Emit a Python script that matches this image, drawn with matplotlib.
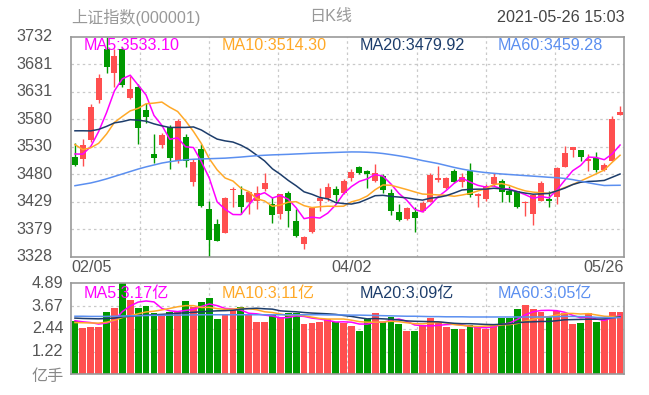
import numpy as np
import matplotlib.pyplot as plt

plt.rcParams['font.family'] = ['Liberation Sans', 'Noto Sans CJK SC']

# daily candles, 2021-02-05 .. 2021-05-26 (70 trading days)
opens = [3511, 3507, 3542, 3615, 3710, 3665, 3709, 3620, 3640, 3597,
         3516, 3533, 3566, 3503, 3548, 3465, 3526, 3416, 3389, 3371,
         3451, 3442, 3428, 3431, 3452, 3425, 3406, 3446, 3394, 3351,
         3374, 3431, 3436, 3452, 3446, 3473, 3493, 3486, 3468, 3477,
         3446, 3411, 3397, 3411, 3413, 3428, 3469, 3455, 3486, 3466,
         3486, 3440, 3434, 3462, 3468, 3449, 3449, 3426, 3406, 3431,
         3434, 3437, 3493, 3524, 3524, 3504, 3509, 3487, 3504, 3589]
highs = [3537, 3544, 3608, 3664, 3731.69, 3709, 3713, 3660, 3645, 3611,
         3553, 3555, 3569, 3581, 3553, 3507, 3535, 3431, 3397, 3438,
         3456, 3458, 3449, 3458, 3481, 3437, 3444, 3449, 3416, 3366,
         3418, 3454, 3463, 3458, 3471, 3489, 3495, 3487, 3498, 3480,
         3452, 3425, 3420, 3419, 3431, 3481, 3495, 3474, 3489, 3481,
         3500, 3445, 3461, 3481, 3471, 3458, 3449, 3431, 3444, 3468,
         3449, 3492, 3532, 3529, 3524, 3517, 3520, 3501, 3587, 3605]
lows = [3494, 3495, 3538, 3610, 3666, 3639, 3640, 3617, 3535, 3573,
        3501, 3527, 3489, 3501, 3492, 3458, 3419, 3328.3, 3357, 3371,
        3419, 3406, 3406, 3416, 3449, 3391, 3397, 3382, 3365, 3342,
        3372, 3413, 3431, 3430, 3443, 3468, 3480, 3455, 3465, 3446,
        3405, 3393, 3395, 3373, 3410, 3428, 3465, 3452, 3464, 3457,
        3438, 3419, 3431, 3458, 3428, 3428, 3417, 3403, 3387, 3430,
        3419, 3425, 3492, 3512, 3504, 3486, 3483, 3486, 3504, 3589]
closes = [3496.33, 3532.44, 3603.49, 3655.09, 3675.36, 3696.17, 3642.44, 3636.36, 3564.08, 3585.05,
          3509.08, 3551.40, 3508.59, 3576.90, 3503.49, 3501.99, 3421.41, 3359.29, 3357.74, 3436.83,
          3453.08, 3419.95, 3446.73, 3445.55, 3463.07, 3404.66, 3443.44, 3411.51, 3367.06, 3363.59,
          3418.33, 3435.30, 3456.68, 3441.91, 3466.33, 3484.39, 3482.48, 3479.63, 3482.55, 3450.68,
          3412.95, 3396.47, 3416.99, 3398.99, 3426.62, 3477.55, 3472.94, 3472.49, 3465.11, 3474.17,
          3441.17, 3442.61, 3457.07, 3474.90, 3446.86, 3441.28, 3418.87, 3427.99, 3441.85, 3462.75,
          3429.54, 3490.38, 3517.62, 3529.01, 3510.96, 3506.94, 3486.56, 3497.28, 3581.34, 3593.36]

ma5 = [3516.62, 3516.37, 3530.29, 3557.84, 3592.54, 3632.51, 3654.51, 3661.08, 3642.88, 3624.82,
       3587.40, 3569.19, 3543.64, 3546.20, 3529.89, 3528.47, 3502.48, 3472.62, 3428.78, 3415.45,
       3405.67, 3405.38, 3422.87, 3440.43, 3445.68, 3435.99, 3440.69, 3433.65, 3417.95, 3398.05,
       3400.79, 3399.16, 3408.19, 3423.16, 3443.71, 3456.92, 3466.36, 3470.95, 3479.08, 3475.95,
       3461.66, 3444.46, 3431.93, 3415.22, 3410.40, 3423.32, 3438.62, 3449.72, 3462.94, 3472.45,
       3465.18, 3459.11, 3456.03, 3457.98, 3452.52, 3452.54, 3447.80, 3441.98, 3435.37, 3438.55,
       3436.20, 3450.50, 3468.43, 3485.86, 3495.50, 3510.98, 3510.22, 3506.15, 3516.62, 3533.10]
ma10 = [3533.84, 3524.66, 3528.06, 3536.24, 3553.26, 3574.57, 3585.44, 3595.69, 3600.36, 3608.68,
        3609.96, 3611.85, 3602.36, 3594.54, 3577.36, 3557.94, 3535.84, 3508.13, 3487.49, 3472.67,
        3467.07, 3453.93, 3447.74, 3434.61, 3430.56, 3420.83, 3423.03, 3428.26, 3429.19, 3421.86,
        3418.39, 3419.92, 3420.92, 3420.56, 3420.88, 3428.85, 3432.76, 3439.57, 3451.12, 3459.83,
        3459.29, 3455.41, 3451.44, 3447.15, 3443.18, 3442.49, 3441.54, 3440.82, 3439.08, 3441.43,
        3444.25, 3448.86, 3452.87, 3460.46, 3462.49, 3458.86, 3453.45, 3449.00, 3446.68, 3445.54,
        3444.37, 3449.15, 3455.20, 3460.62, 3467.03, 3473.59, 3480.36, 3487.29, 3501.24, 3514.30]
ma20 = [3559.14, 3559.18, 3558.94, 3561.76, 3567.23, 3573.72, 3576.04, 3579.54, 3578.59, 3576.78,
        3571.90, 3568.25, 3565.21, 3565.39, 3565.31, 3566.25, 3560.64, 3551.91, 3543.93, 3540.68,
        3538.51, 3532.89, 3525.05, 3514.57, 3503.96, 3489.38, 3479.43, 3468.19, 3458.34, 3447.27,
        3442.73, 3436.93, 3434.33, 3427.58, 3425.72, 3424.84, 3427.90, 3433.91, 3440.15, 3440.85,
        3438.84, 3437.67, 3436.18, 3433.85, 3432.03, 3435.67, 3437.15, 3440.20, 3445.10, 3450.63,
        3451.77, 3452.14, 3452.16, 3453.80, 3452.83, 3450.68, 3447.50, 3444.91, 3442.88, 3443.48,
        3444.31, 3449.01, 3454.04, 3460.54, 3464.76, 3466.23, 3466.91, 3468.15, 3473.96, 3479.92]
ma60 = [3458.5, 3461.0, 3463.5, 3467.0, 3471.0, 3475.5, 3480.0, 3484.5, 3489.0, 3493.0,
        3496.5, 3500.0, 3502.5, 3504.5, 3506.0, 3507.0, 3507.5, 3508.0, 3508.5, 3509.0,
        3510.0, 3511.0, 3512.3, 3513.5, 3514.3, 3515.0, 3515.5, 3516.0, 3516.7, 3517.3,
        3518.0, 3518.5, 3519.0, 3519.5, 3520.0, 3520.4, 3520.3, 3519.8, 3519.0, 3517.5,
        3515.5, 3513.3, 3510.8, 3507.8, 3504.5, 3501.8, 3499.0, 3495.5, 3492.0, 3489.0,
        3486.3, 3484.2, 3482.5, 3481.2, 3480.0, 3479.0, 3478.0, 3477.0, 3476.0, 3475.00,
        3473.89, 3473.19, 3471.76, 3469.65, 3466.91, 3463.76, 3461.16, 3458.84, 3459.13, 3459.28]

# volume, 亿手
volume = [2.88, 2.47, 2.52, 2.52, 3.36, 3.58, 4.89, 3.99, 3.58, 3.67,
          3.31, 3.13, 3.36, 3.40, 3.94, 3.63, 3.87, 4.08, 2.95, 3.19,
          3.45, 3.60, 3.19, 2.83, 2.83, 3.19, 3.10, 3.28, 3.28, 2.70,
          2.74, 2.83, 2.95, 2.83, 2.77, 2.60, 2.33, 2.95, 3.31, 2.83,
          3.06, 2.70, 2.33, 2.33, 2.65, 3.01, 2.83, 2.52, 2.45, 2.45,
          2.65, 2.52, 2.45, 2.70, 3.04, 3.04, 3.51, 3.72, 3.51, 3.36,
          3.10, 3.40, 3.28, 2.70, 2.74, 3.28, 2.83, 2.95, 3.36, 3.36]
vma5 = [2.88, 2.82, 2.78, 2.70, 2.75, 2.89, 3.37, 3.67, 3.88, 3.94,
        3.89, 3.54, 3.41, 3.37, 3.43, 3.49, 3.64, 3.78, 3.69, 3.54,
        3.51, 3.45, 3.28, 3.25, 3.18, 3.13, 3.03, 3.05, 3.14, 3.11,
        3.02, 2.97, 2.90, 2.81, 2.82, 2.80, 2.70, 2.70, 2.79, 2.80,
        2.90, 2.97, 2.85, 2.65, 2.61, 2.60, 2.63, 2.67, 2.69, 2.65,
        2.58, 2.52, 2.50, 2.55, 2.67, 2.75, 2.95, 3.20, 3.36, 3.43,
        3.44, 3.42, 3.33, 3.17, 3.04, 3.08, 2.97, 2.90, 3.03, 3.17]
vma10 = [2.78, 2.77, 2.76, 2.75, 2.80, 2.90, 3.05, 3.15, 3.25, 3.35,
         3.39, 3.46, 3.54, 3.63, 3.69, 3.69, 3.59, 3.60, 3.53, 3.49,
         3.50, 3.55, 3.53, 3.47, 3.36, 3.32, 3.24, 3.16, 3.19, 3.15,
         3.07, 3.00, 2.97, 2.97, 2.97, 2.91, 2.83, 2.80, 2.80, 2.81,
         2.85, 2.83, 2.77, 2.72, 2.71, 2.75, 2.80, 2.76, 2.67, 2.63,
         2.59, 2.57, 2.59, 2.62, 2.66, 2.67, 2.73, 2.85, 2.96, 3.05,
         3.10, 3.18, 3.27, 3.27, 3.24, 3.26, 3.19, 3.12, 3.10, 3.11]
vma20 = [3.02, 3.00, 2.99, 2.98, 3.00, 3.02, 3.08, 3.12, 3.15, 3.18,
         3.20, 3.22, 3.25, 3.28, 3.31, 3.33, 3.36, 3.39, 3.41, 3.42,
         3.44, 3.50, 3.53, 3.55, 3.52, 3.50, 3.41, 3.38, 3.36, 3.32,
         3.29, 3.27, 3.25, 3.22, 3.16, 3.11, 3.04, 2.98, 3.00, 2.98,
         2.96, 2.92, 2.87, 2.85, 2.84, 2.83, 2.82, 2.78, 2.74, 2.72,
         2.72, 2.70, 2.68, 2.67, 2.69, 2.71, 2.77, 2.81, 2.82, 2.84,
         2.84, 2.88, 2.93, 2.94, 2.95, 2.96, 2.96, 2.98, 3.03, 3.09]
vma60 = [3.12, 3.12, 3.11, 3.11, 3.11, 3.12, 3.13, 3.14, 3.15, 3.16,
         3.17, 3.17, 3.18, 3.18, 3.19, 3.19, 3.20, 3.20, 3.20, 3.20,
         3.20, 3.20, 3.20, 3.20, 3.20, 3.20, 3.20, 3.20, 3.20, 3.20,
         3.20, 3.20, 3.19, 3.19, 3.19, 3.18, 3.18, 3.17, 3.16, 3.15,
         3.14, 3.13, 3.12, 3.12, 3.11, 3.10, 3.10, 3.09, 3.09, 3.09,
         3.08, 3.08, 3.08, 3.08, 3.08, 3.08, 3.08, 3.08, 3.08, 3.08,
         3.08, 3.10, 3.11, 3.11, 3.10, 3.10, 3.06, 3.05, 3.04, 3.05]

price_ticks = ['3732', '3681', '3631', '3580', '3530', '3480', '3429', '3379', '3328']
vol_ticks = ['4.89', '3.67', '2.44', '1.22']
date_labels = ['02/05', '04/02', '05/26']
date_index = [0, 35, 69]
ma_names = ['MA5', 'MA10', 'MA20', 'MA60']
ma_last = ['3533.10', '3514.30', '3479.92', '3459.28']
vma_last = ['3.17', '3.11', '3.09', '3.05']

RED = '#ff4f4f'
GREEN = '#009900'
MA_COLORS = ['#ff00ff', '#ffa928', '#1d3d6b', '#5b8ff0']
TXT = '#555555'
FS = 11.6

W, H = 649, 395
fig = plt.figure(figsize=(W / 100, H / 100), dpi=100)


def box(l, t, r, b):
    return [l / W, 1 - b / H, (r - l) / W, (b - t) / H]


ax = fig.add_axes(box(71, 36.7, 624, 256.7))
axv = fig.add_axes(box(71, 283.3, 624, 374.3))

x = np.arange(len(closes))
o = np.array(opens)
c = np.array(closes)
cols = [RED if cc >= oo else GREEN for oo, cc in zip(o, c)]

ymin, ymax = 3328.3, 3731.69
ax.set_xlim(-0.5, len(x) - 0.5)
ax.set_ylim(ymin, ymax)
axv.set_xlim(-0.5, len(x) - 0.5)
axv.set_ylim(0, max(volume))

# grid
yt = np.linspace(ymin, ymax, 9)
xt = np.linspace(-0.5, len(x) - 0.5, 9)[1:-1]
for a, hy in ((ax, yt[1:-1]), (axv, np.linspace(0, max(volume), 5)[1:-1])):
    for v in hy:
        a.axhline(v, color='#c9c9c9', lw=0.9, ls=(0, (2, 2.5)), zorder=0)
    for v in xt:
        a.axvline(v, color='#c9c9c9', lw=0.9, ls=(0, (2, 2.5)), zorder=0)

# candles
ax.vlines(x, lows, highs, colors=cols, lw=1.0, zorder=2)
body = np.maximum(np.abs(c - o), 1.8)
ax.bar(x, body, bottom=np.minimum(o, c), width=0.76, color=cols, zorder=3)

for series, col in zip((ma5, ma10, ma20, ma60), MA_COLORS):
    ax.plot(x, series, color=col, lw=1.1, zorder=4)

# volume
axv.bar(x, volume, width=0.86, color=cols, zorder=2)
for series, col in zip((vma5, vma10, vma20, vma60), MA_COLORS):
    axv.plot(x, series, color=col, lw=1.1, zorder=4)

for a in (ax, axv):
    a.set_xticks([])
    a.set_yticks([])
    for s in a.spines.values():
        s.set_color('#999999')
        s.set_linewidth(1.2)

# legends
for k in range(4):
    ax.text(0.022 + 0.25 * k, 0.962, f'{ma_names[k]}:{ma_last[k]}', color=MA_COLORS[k],
            fontsize=FS, transform=ax.transAxes, va='center', ha='left', zorder=6)
    axv.text(0.022 + 0.25 * k, 0.893, f'{ma_names[k]}:{vma_last[k]}亿', color=MA_COLORS[k],
             fontsize=FS, transform=axv.transAxes, va='center', ha='left', zorder=6)

# price labels
ytr = ax.get_yaxis_transform()
for lab, v in zip(price_ticks, yt[::-1]):
    ax.text(-0.033, v, lab, transform=ytr, ha='right', va='center', fontsize=FS, color=TXT)
vtr = axv.get_yaxis_transform()
for lab, v in zip(vol_ticks, np.linspace(0, max(volume), 5)[::-1]):
    axv.text(-0.014, v, lab, transform=vtr, ha='right', va='center', fontsize=FS, color=TXT)
axv.text(-0.014, -0.02, '亿手', transform=axv.transAxes, ha='right', va='center',
         fontsize=FS, color='#888888')

# dates
xtr = ax.get_xaxis_transform()
for lab, i in zip(date_labels, date_index):
    ha = 'left' if i == 0 else ('right' if i == len(x) - 1 else 'center')
    xp = -0.5 if i == 0 else (len(x) - 0.5 if i == len(x) - 1 else i)
    ax.text(xp, -0.047, lab, transform=xtr, ha=ha, va='center', fontsize=FS, color=TXT)

# header
fig.text(71 / W, 1 - 17 / H, '上证指数(000001)', ha='left', va='center', fontsize=FS, color='#999999')
fig.text(309 / W, 1 - 17 / H, '日K线', ha='left', va='center', fontsize=FS, color='#999999')
fig.text(625 / W, 1 - 17 / H, '2021-05-26 15:03', ha='right', va='center', fontsize=FS, color='#444444')

fig.savefig('out.png', dpi=100)
